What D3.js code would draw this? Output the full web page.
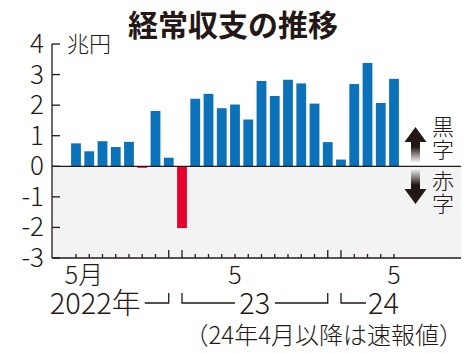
<!DOCTYPE html>
<html>
<head>
<meta charset="utf-8">
<script src="https://cdn.jsdelivr.net/npm/d3@7"></script>
<style>
  body { margin: 0; background: #fff; }
  text { font-family: "Noto Sans CJK JP", "Noto Sans", sans-serif; fill: #231815; }
</style>
</head>
<body>
<div id="chart"></div>
<script>
// monthly current account balance, trillion yen
const months = [
  "2022-05", "2022-06", "2022-07", "2022-08", "2022-09", "2022-10", "2022-11", "2022-12",
  "2023-01", "2023-02", "2023-03", "2023-04", "2023-05", "2023-06", "2023-07", "2023-08",
  "2023-09", "2023-10", "2023-11", "2023-12", "2024-01", "2024-02", "2024-03", "2024-04", "2024-05"
];
const values = [
  0.75, 0.49, 0.82, 0.63, 0.80, -0.05, 1.81, 0.28,
  -2.02, 2.21, 2.37, 1.90, 2.02, 1.53, 2.79, 2.30,
  2.83, 2.71, 2.05, 0.79, 0.22, 2.69, 3.38, 2.07, 2.86
];
const yTicks = [-3, -2, -1, 0, 1, 2, 3, 4];
const monthLabels = [["2022-05", "5月"], ["2023-05", "5"], ["2024-05", "5"]];
const yearLabels = ["2022年", "23", "24"];

const width = 474, height = 353;
const left = 52, right = 461;

const x = d3.scalePoint().domain(months).range([76, 394]);
const y = d3.scaleLinear().domain([-3, 4]).range([258, 44]);
const barW = 9.8;

const svg = d3.select("#chart")
  .append("svg")
  .attr("width", width)
  .attr("height", height);

// arrow gradients
const defs = svg.append("defs");
const gUp = defs.append("linearGradient").attr("id", "fadeUp")
  .attr("x1", 0).attr("y1", 0).attr("x2", 0).attr("y2", 1);
gUp.append("stop").attr("offset", "0.55").attr("stop-color", "#231815");
gUp.append("stop").attr("offset", "1").attr("stop-color", "#231815").attr("stop-opacity", 0);
const gDown = defs.append("linearGradient").attr("id", "fadeDown")
  .attr("x1", 0).attr("y1", 1).attr("x2", 0).attr("y2", 0);
gDown.append("stop").attr("offset", "0.55").attr("stop-color", "#231815");
gDown.append("stop").attr("offset", "1").attr("stop-color", "#231815").attr("stop-opacity", 0);

// negative zone
svg.append("rect")
  .attr("x", left)
  .attr("y", y(0))
  .attr("width", right - left)
  .attr("height", y(-3) - y(0))
  .attr("fill", "#f3f3f3");

// bars
svg.append("g")
  .selectAll("rect")
  .data(values)
  .join("rect")
  .attr("x", (d, i) => x(months[i]) - barW / 2)
  .attr("y", d => y(Math.max(0, d)))
  .attr("width", barW)
  .attr("height", d => Math.abs(y(d) - y(0)))
  .attr("fill", d => d < 0 ? "#e5002d" : "#0b72b9");

// axis lines
const axis = svg.append("g").attr("stroke", "#231815").attr("stroke-width", 1.3).attr("fill", "none");
axis.append("line").attr("x1", left).attr("x2", left).attr("y1", y(4)).attr("y2", y(-3));
axis.append("line").attr("x1", left).attr("x2", right).attr("y1", y(0)).attr("y2", y(0));
axis.append("line").attr("x1", left).attr("x2", right).attr("y1", y(-3)).attr("y2", y(-3));

axis.selectAll(".ytick")
  .data(yTicks)
  .join("line")
  .attr("x1", left).attr("x2", left + 8)
  .attr("y1", d => y(d)).attr("y2", d => y(d));

// month ticks, taller at the year change
axis.selectAll(".xtick")
  .data(months)
  .join("line")
  .attr("x1", d => x(d)).attr("x2", d => x(d))
  .attr("y1", y(-3))
  .attr("y2", d => (d.endsWith("-12") || d.endsWith("-01")) ? y(-3) - 8 : y(-3) - 4);

// y labels
svg.append("g")
  .attr("font-size", 26)
  .attr("font-weight", 300)
  .attr("text-anchor", "end")
  .selectAll("text")
  .data(yTicks)
  .join("text")
  .attr("x", 44)
  .attr("y", d => y(d) + 9)
  .text(d => d < 0 ? "-" + Math.abs(d) : d);

svg.append("text")
  .attr("x", 67).attr("y", 52)
  .attr("font-size", 22)
  .attr("font-weight", 300)
  .text("兆円");

// title
svg.append("text")
  .attr("x", 233).attr("y", 36)
  .attr("text-anchor", "middle")
  .attr("font-size", 30)
  .attr("font-weight", "bold")
  .text("経常収支の推移");

// month labels
svg.append("g")
  .attr("font-size", 25)
  .attr("font-weight", 300)
  .attr("text-anchor", "middle")
  .selectAll("text")
  .data(monthLabels)
  .join("text")
  .attr("x", d => x(d[0]) + (d[1].length > 1 ? 8 : 0))
  .attr("y", 284)
  .text(d => d[1]);

// year brackets
const by = 303, bt = 293;
const br = svg.append("g").attr("stroke", "#231815").attr("stroke-width", 1.3).attr("fill", "none");
const yr = svg.append("g").attr("font-size", 29).attr("font-weight", 300);

const x22 = x("2022-12");
br.append("path").attr("d", `M${x22 - 24},${by}H${x22}V${bt}`);
yr.append("text").attr("x", x22 - 28).attr("y", 314).attr("text-anchor", "end").text(yearLabels[0]);

const a23 = x("2023-01"), b23 = x("2023-12"), m23 = (a23 + b23) / 2;
br.append("path").attr("d", `M${a23},${bt}V${by}H${m23 - 20}`);
br.append("path").attr("d", `M${m23 + 20},${by}H${b23}V${bt}`);
yr.append("text").attr("x", m23).attr("y", 314).attr("text-anchor", "middle").text(yearLabels[1]);

const a24 = x("2024-01");
br.append("path").attr("d", `M${a24},${bt}V${by}H${a24 + 25}`);
yr.append("text").attr("x", a24 + 27).attr("y", 314).text(yearLabels[2]);

svg.append("text")
  .attr("x", 463).attr("y", 344)
  .attr("text-anchor", "end")
  .attr("font-size", 24)
  .attr("font-weight", 300)
  .text("（24年4月以降は速報値）");

// surplus / deficit arrows
const ax = 415.5;
svg.append("path")
  .attr("d", `M${ax},127L${ax + 11},142H${ax + 4.5}V163H${ax - 4.5}V142H${ax - 11}Z`)
  .attr("fill", "url(#fadeUp)");
svg.append("path")
  .attr("d", `M${ax},204L${ax + 11},189H${ax + 4.5}V169H${ax - 4.5}V189H${ax - 11}Z`)
  .attr("fill", "url(#fadeDown)");

svg.append("g")
  .attr("font-size", 22)
  .attr("font-weight", 300)
  .attr("text-anchor", "middle")
  .selectAll("text")
  .data([["黒", 135], ["字", 158], ["赤", 189], ["字", 212]])
  .join("text")
  .attr("x", 443)
  .attr("y", d => d[1])
  .text(d => d[0]);
</script>
</body>
</html>
